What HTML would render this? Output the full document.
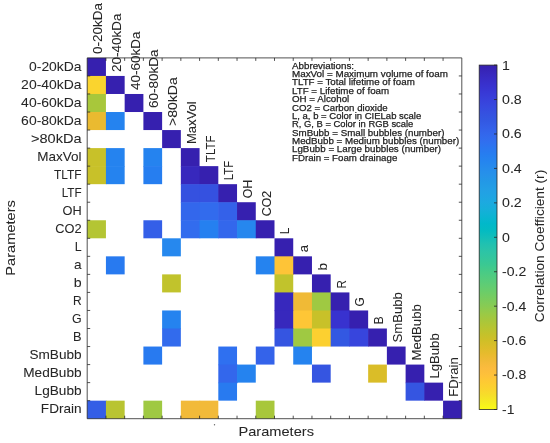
<!DOCTYPE html><html><head><meta charset="utf-8"><style>html,body{margin:0;padding:0;background:#fff;}body{width:550px;height:443px;overflow:hidden;position:relative;}#w{position:absolute;left:0;top:0;width:550px;height:443px;}svg{position:absolute;left:0;top:0;will-change:transform;}text{font-family:"Liberation Sans", sans-serif;fill:#262626;stroke:#262626;stroke-width:0.05px;}</style></head><body>
<div id="w">
<svg width="550" height="443" viewBox="0 0 550 443">
<rect width="550" height="443" fill="#fff"/>
<rect x="87.20" y="57.90" width="18.73" height="18.64" fill="#3620af"/>
<rect x="87.20" y="75.94" width="19.33" height="18.64" fill="#fad42e"/>
<rect x="105.93" y="75.94" width="18.73" height="18.04" fill="#3620af"/>
<rect x="87.20" y="93.98" width="18.73" height="18.64" fill="#a8c73b"/>
<rect x="124.66" y="93.98" width="18.73" height="18.04" fill="#3620af"/>
<rect x="87.20" y="112.02" width="19.33" height="18.04" fill="#eaba30"/>
<rect x="105.93" y="112.02" width="18.73" height="18.04" fill="#2583ef"/>
<rect x="143.39" y="112.02" width="18.73" height="18.04" fill="#3620af"/>
<rect x="162.12" y="130.06" width="18.73" height="18.04" fill="#3620af"/>
<rect x="87.20" y="148.10" width="19.33" height="18.64" fill="#c8c129"/>
<rect x="105.93" y="148.10" width="18.73" height="18.64" fill="#2583ef"/>
<rect x="143.39" y="148.10" width="18.73" height="18.64" fill="#2583ef"/>
<rect x="180.85" y="148.10" width="18.73" height="18.64" fill="#3620af"/>
<rect x="87.20" y="166.14" width="19.33" height="18.04" fill="#c8c129"/>
<rect x="105.93" y="166.14" width="18.73" height="18.04" fill="#2583ef"/>
<rect x="143.39" y="166.14" width="18.73" height="18.04" fill="#267ef0"/>
<rect x="180.85" y="166.14" width="19.33" height="18.64" fill="#3728bd"/>
<rect x="199.58" y="166.14" width="18.73" height="18.64" fill="#3620af"/>
<rect x="180.85" y="184.18" width="19.33" height="18.64" fill="#3551e0"/>
<rect x="199.58" y="184.18" width="19.33" height="18.64" fill="#3551e0"/>
<rect x="218.31" y="184.18" width="18.73" height="18.64" fill="#3620af"/>
<rect x="180.85" y="202.22" width="19.33" height="18.64" fill="#3367ec"/>
<rect x="199.58" y="202.22" width="19.33" height="18.64" fill="#326bed"/>
<rect x="218.31" y="202.22" width="19.33" height="18.64" fill="#3461e9"/>
<rect x="237.04" y="202.22" width="18.73" height="18.64" fill="#3620af"/>
<rect x="87.20" y="220.26" width="18.73" height="18.04" fill="#b4c533"/>
<rect x="143.39" y="220.26" width="18.73" height="18.04" fill="#345fe8"/>
<rect x="180.85" y="220.26" width="19.33" height="18.04" fill="#326cee"/>
<rect x="199.58" y="220.26" width="19.33" height="18.04" fill="#2580f0"/>
<rect x="218.31" y="220.26" width="19.33" height="18.04" fill="#3367ec"/>
<rect x="237.04" y="220.26" width="19.33" height="18.04" fill="#2687ee"/>
<rect x="255.77" y="220.26" width="18.73" height="18.04" fill="#3620af"/>
<rect x="162.12" y="238.30" width="18.73" height="18.04" fill="#2688ee"/>
<rect x="274.50" y="238.30" width="18.73" height="18.64" fill="#3620af"/>
<rect x="105.93" y="256.34" width="18.73" height="18.04" fill="#287af0"/>
<rect x="255.77" y="256.34" width="19.33" height="18.04" fill="#2583ef"/>
<rect x="274.50" y="256.34" width="19.33" height="18.64" fill="#fec437"/>
<rect x="293.23" y="256.34" width="18.73" height="18.04" fill="#3620af"/>
<rect x="162.12" y="274.38" width="18.73" height="18.04" fill="#c1c32c"/>
<rect x="274.50" y="274.38" width="18.73" height="18.64" fill="#c1c32c"/>
<rect x="311.96" y="274.38" width="18.73" height="18.64" fill="#3620af"/>
<rect x="274.50" y="292.42" width="19.33" height="18.64" fill="#3728bd"/>
<rect x="293.23" y="292.42" width="19.33" height="18.64" fill="#f0ba36"/>
<rect x="311.96" y="292.42" width="19.33" height="18.64" fill="#9fc942"/>
<rect x="330.69" y="292.42" width="18.73" height="18.64" fill="#3620af"/>
<rect x="162.12" y="310.46" width="18.73" height="18.64" fill="#2583ef"/>
<rect x="274.50" y="310.46" width="19.33" height="18.64" fill="#3728bd"/>
<rect x="293.23" y="310.46" width="19.33" height="18.64" fill="#fec636"/>
<rect x="311.96" y="310.46" width="19.33" height="18.64" fill="#c8c129"/>
<rect x="330.69" y="310.46" width="19.33" height="18.64" fill="#3832cf"/>
<rect x="349.42" y="310.46" width="18.73" height="18.64" fill="#3620af"/>
<rect x="162.12" y="328.50" width="18.73" height="18.04" fill="#326bed"/>
<rect x="274.50" y="328.50" width="19.33" height="18.04" fill="#3555e1"/>
<rect x="293.23" y="328.50" width="19.33" height="18.64" fill="#9fc942"/>
<rect x="311.96" y="328.50" width="19.33" height="18.04" fill="#fcd030"/>
<rect x="330.69" y="328.50" width="19.33" height="18.04" fill="#3358e2"/>
<rect x="349.42" y="328.50" width="19.33" height="18.04" fill="#3745dd"/>
<rect x="368.15" y="328.50" width="18.73" height="18.04" fill="#3620af"/>
<rect x="143.39" y="346.54" width="18.73" height="18.04" fill="#287af0"/>
<rect x="218.31" y="346.54" width="18.73" height="18.64" fill="#2f70f0"/>
<rect x="255.77" y="346.54" width="18.73" height="18.04" fill="#3463ea"/>
<rect x="293.23" y="346.54" width="18.73" height="18.04" fill="#2583ef"/>
<rect x="386.88" y="346.54" width="18.73" height="18.04" fill="#3620af"/>
<rect x="218.31" y="364.58" width="19.33" height="18.64" fill="#3367ec"/>
<rect x="237.04" y="364.58" width="18.73" height="18.04" fill="#2583ef"/>
<rect x="311.96" y="364.58" width="18.73" height="18.04" fill="#3555e1"/>
<rect x="368.15" y="364.58" width="18.73" height="18.04" fill="#dabd28"/>
<rect x="405.61" y="364.58" width="18.73" height="18.64" fill="#3620af"/>
<rect x="218.31" y="382.62" width="18.73" height="18.04" fill="#287af0"/>
<rect x="405.61" y="382.62" width="19.33" height="18.04" fill="#3555e1"/>
<rect x="424.34" y="382.62" width="18.73" height="18.04" fill="#3620af"/>
<rect x="87.20" y="400.66" width="19.33" height="18.04" fill="#345ee6"/>
<rect x="105.93" y="400.66" width="18.73" height="18.04" fill="#b9c431"/>
<rect x="143.39" y="400.66" width="18.73" height="18.04" fill="#9fc942"/>
<rect x="180.85" y="400.66" width="19.33" height="18.04" fill="#f2ba39"/>
<rect x="199.58" y="400.66" width="18.73" height="18.04" fill="#f2ba39"/>
<rect x="255.77" y="400.66" width="18.73" height="18.04" fill="#a8c73b"/>
<rect x="443.07" y="400.66" width="18.73" height="18.04" fill="#3620af"/>
<path d="M87.20 57.90H461.80V418.70H87.20Z" fill="none" stroke="#262626" stroke-width="0.8"/>
<path d="M105.93 57.90v3.00M105.93 418.70v-3.00M87.20 75.94h3.00M461.80 75.94h-3.00M124.66 57.90v3.00M124.66 418.70v-3.00M87.20 93.98h3.00M461.80 93.98h-3.00M143.39 57.90v3.00M143.39 418.70v-3.00M87.20 112.02h3.00M461.80 112.02h-3.00M162.12 57.90v3.00M162.12 418.70v-3.00M87.20 130.06h3.00M461.80 130.06h-3.00M180.85 57.90v3.00M180.85 418.70v-3.00M87.20 148.10h3.00M461.80 148.10h-3.00M199.58 57.90v3.00M199.58 418.70v-3.00M87.20 166.14h3.00M461.80 166.14h-3.00M218.31 57.90v3.00M218.31 418.70v-3.00M87.20 184.18h3.00M461.80 184.18h-3.00M237.04 57.90v3.00M237.04 418.70v-3.00M87.20 202.22h3.00M461.80 202.22h-3.00M255.77 57.90v3.00M255.77 418.70v-3.00M87.20 220.26h3.00M461.80 220.26h-3.00M274.50 57.90v3.00M274.50 418.70v-3.00M87.20 238.30h3.00M461.80 238.30h-3.00M293.23 57.90v3.00M293.23 418.70v-3.00M87.20 256.34h3.00M461.80 256.34h-3.00M311.96 57.90v3.00M311.96 418.70v-3.00M87.20 274.38h3.00M461.80 274.38h-3.00M330.69 57.90v3.00M330.69 418.70v-3.00M87.20 292.42h3.00M461.80 292.42h-3.00M349.42 57.90v3.00M349.42 418.70v-3.00M87.20 310.46h3.00M461.80 310.46h-3.00M368.15 57.90v3.00M368.15 418.70v-3.00M87.20 328.50h3.00M461.80 328.50h-3.00M386.88 57.90v3.00M386.88 418.70v-3.00M87.20 346.54h3.00M461.80 346.54h-3.00M405.61 57.90v3.00M405.61 418.70v-3.00M87.20 364.58h3.00M461.80 364.58h-3.00M424.34 57.90v3.00M424.34 418.70v-3.00M87.20 382.62h3.00M461.80 382.62h-3.00M443.07 57.90v3.00M443.07 418.70v-3.00M87.20 400.66h3.00M461.80 400.66h-3.00" fill="none" stroke="#262626" stroke-width="0.8"/>
<text x="81.60" y="70.72" font-size="12.40" textLength="52.56" lengthAdjust="spacingAndGlyphs" text-anchor="end">0-20kDa</text>
<text x="81.60" y="88.76" font-size="12.40" textLength="60.46" lengthAdjust="spacingAndGlyphs" text-anchor="end">20-40kDa</text>
<text x="81.60" y="106.80" font-size="12.40" textLength="60.46" lengthAdjust="spacingAndGlyphs" text-anchor="end">40-60kDa</text>
<text x="81.60" y="124.84" font-size="12.40" textLength="60.46" lengthAdjust="spacingAndGlyphs" text-anchor="end">60-80kDa</text>
<text x="81.60" y="142.88" font-size="12.40" textLength="50.58" lengthAdjust="spacingAndGlyphs" text-anchor="end">&gt;80kDa</text>
<text x="81.60" y="160.92" font-size="12.40" textLength="44.26" lengthAdjust="spacingAndGlyphs" text-anchor="end">MaxVol</text>
<text x="81.60" y="178.96" font-size="12.40" textLength="27.53" lengthAdjust="spacingAndGlyphs" text-anchor="end">TLTF</text>
<text x="81.60" y="197.00" font-size="12.40" textLength="19.94" lengthAdjust="spacingAndGlyphs" text-anchor="end">LTF</text>
<text x="81.60" y="215.04" font-size="12.40" textLength="19.12" lengthAdjust="spacingAndGlyphs" text-anchor="end">OH</text>
<text x="81.60" y="233.08" font-size="12.40" textLength="26.35" lengthAdjust="spacingAndGlyphs" text-anchor="end">CO2</text>
<text x="81.60" y="251.12" font-size="12.40" textLength="6.92" lengthAdjust="spacingAndGlyphs" text-anchor="end">L</text>
<text x="81.60" y="269.16" font-size="12.40" textLength="7.61" lengthAdjust="spacingAndGlyphs" text-anchor="end">a</text>
<text x="81.60" y="287.20" font-size="12.40" textLength="7.88" lengthAdjust="spacingAndGlyphs" text-anchor="end">b</text>
<text x="81.60" y="305.24" font-size="12.40" textLength="8.63" lengthAdjust="spacingAndGlyphs" text-anchor="end">R</text>
<text x="81.60" y="323.28" font-size="12.40" textLength="9.62" lengthAdjust="spacingAndGlyphs" text-anchor="end">G</text>
<text x="81.60" y="341.32" font-size="12.40" textLength="8.52" lengthAdjust="spacingAndGlyphs" text-anchor="end">B</text>
<text x="81.60" y="359.36" font-size="12.40" textLength="52.14" lengthAdjust="spacingAndGlyphs" text-anchor="end">SmBubb</text>
<text x="81.60" y="377.40" font-size="12.40" textLength="58.40" lengthAdjust="spacingAndGlyphs" text-anchor="end">MedBubb</text>
<text x="81.60" y="395.44" font-size="12.40" textLength="46.96" lengthAdjust="spacingAndGlyphs" text-anchor="end">LgBubb</text>
<text x="81.60" y="413.48" font-size="12.40" textLength="40.75" lengthAdjust="spacingAndGlyphs" text-anchor="end">FDrain</text>
<text transform="translate(102.16 53.90) rotate(-90)" x="0" y="0" font-size="12.40" textLength="50.78" lengthAdjust="spacingAndGlyphs">0-20kDa</text>
<text transform="translate(120.89 71.94) rotate(-90)" x="0" y="0" font-size="12.40" textLength="58.41" lengthAdjust="spacingAndGlyphs">20-40kDa</text>
<text transform="translate(139.62 89.98) rotate(-90)" x="0" y="0" font-size="12.40" textLength="58.41" lengthAdjust="spacingAndGlyphs">40-60kDa</text>
<text transform="translate(158.35 108.02) rotate(-90)" x="0" y="0" font-size="12.40" textLength="58.41" lengthAdjust="spacingAndGlyphs">60-80kDa</text>
<text transform="translate(177.09 126.06) rotate(-90)" x="0" y="0" font-size="12.40" textLength="48.87" lengthAdjust="spacingAndGlyphs">&gt;80kDa</text>
<text transform="translate(195.81 144.10) rotate(-90)" x="0" y="0" font-size="12.40" textLength="42.76" lengthAdjust="spacingAndGlyphs">MaxVol</text>
<text transform="translate(214.54 162.14) rotate(-90)" x="0" y="0" font-size="12.40" textLength="26.60" lengthAdjust="spacingAndGlyphs">TLTF</text>
<text transform="translate(233.28 180.18) rotate(-90)" x="0" y="0" font-size="12.40" textLength="19.27" lengthAdjust="spacingAndGlyphs">LTF</text>
<text transform="translate(252.01 198.22) rotate(-90)" x="0" y="0" font-size="12.40" textLength="18.47" lengthAdjust="spacingAndGlyphs">OH</text>
<text transform="translate(270.74 216.26) rotate(-90)" x="0" y="0" font-size="12.40" textLength="25.46" lengthAdjust="spacingAndGlyphs">CO2</text>
<text transform="translate(289.47 234.30) rotate(-90)" x="0" y="0" font-size="12.40" textLength="6.69" lengthAdjust="spacingAndGlyphs">L</text>
<text transform="translate(308.20 252.34) rotate(-90)" x="0" y="0" font-size="12.40" textLength="7.35" lengthAdjust="spacingAndGlyphs">a</text>
<text transform="translate(326.93 270.38) rotate(-90)" x="0" y="0" font-size="12.40" textLength="7.62" lengthAdjust="spacingAndGlyphs">b</text>
<text transform="translate(345.66 288.42) rotate(-90)" x="0" y="0" font-size="12.40" textLength="8.34" lengthAdjust="spacingAndGlyphs">R</text>
<text transform="translate(364.38 306.46) rotate(-90)" x="0" y="0" font-size="12.40" textLength="9.30" lengthAdjust="spacingAndGlyphs">G</text>
<text transform="translate(383.12 324.50) rotate(-90)" x="0" y="0" font-size="12.40" textLength="8.23" lengthAdjust="spacingAndGlyphs">B</text>
<text transform="translate(401.85 342.54) rotate(-90)" x="0" y="0" font-size="12.40" textLength="50.38" lengthAdjust="spacingAndGlyphs">SmBubb</text>
<text transform="translate(420.58 360.58) rotate(-90)" x="0" y="0" font-size="12.40" textLength="56.43" lengthAdjust="spacingAndGlyphs">MedBubb</text>
<text transform="translate(439.31 378.62) rotate(-90)" x="0" y="0" font-size="12.40" textLength="45.38" lengthAdjust="spacingAndGlyphs">LgBubb</text>
<text transform="translate(458.04 396.66) rotate(-90)" x="0" y="0" font-size="12.40" textLength="39.37" lengthAdjust="spacingAndGlyphs">FDrain</text>
<text x="292.00" y="68.70" font-size="9.20" textLength="62.04" lengthAdjust="spacingAndGlyphs" fill="#1a1a1a" style="stroke:#1a1a1a;stroke-width:0.25px">Abbreviations:</text>
<text x="292.00" y="77.06" font-size="9.20" textLength="155.98" lengthAdjust="spacingAndGlyphs" fill="#1a1a1a" style="stroke:#1a1a1a;stroke-width:0.25px">MaxVol = Maximum volume of foam</text>
<text x="292.00" y="85.42" font-size="9.20" textLength="122.77" lengthAdjust="spacingAndGlyphs" fill="#1a1a1a" style="stroke:#1a1a1a;stroke-width:0.25px">TLTF = Total lifetime of foam</text>
<text x="292.00" y="93.78" font-size="9.20" textLength="97.10" lengthAdjust="spacingAndGlyphs" fill="#1a1a1a" style="stroke:#1a1a1a;stroke-width:0.25px">LTF = Lifetime of foam</text>
<text x="292.00" y="102.14" font-size="9.20" textLength="57.27" lengthAdjust="spacingAndGlyphs" fill="#1a1a1a" style="stroke:#1a1a1a;stroke-width:0.25px">OH = Alcohol</text>
<text x="292.00" y="110.50" font-size="9.20" textLength="95.71" lengthAdjust="spacingAndGlyphs" fill="#1a1a1a" style="stroke:#1a1a1a;stroke-width:0.25px">CO2 = Carbon dioxide</text>
<text x="292.00" y="118.86" font-size="9.20" textLength="129.28" lengthAdjust="spacingAndGlyphs" fill="#1a1a1a" style="stroke:#1a1a1a;stroke-width:0.25px">L, a, b = Color in CIELab scale</text>
<text x="292.00" y="127.22" font-size="9.20" textLength="121.34" lengthAdjust="spacingAndGlyphs" fill="#1a1a1a" style="stroke:#1a1a1a;stroke-width:0.25px">R, G, B = Color in RGB scale</text>
<text x="292.00" y="135.58" font-size="9.20" textLength="152.40" lengthAdjust="spacingAndGlyphs" fill="#1a1a1a" style="stroke:#1a1a1a;stroke-width:0.25px">SmBubb = Small bubbles (number)</text>
<text x="292.00" y="143.94" font-size="9.20" textLength="167.23" lengthAdjust="spacingAndGlyphs" fill="#1a1a1a" style="stroke:#1a1a1a;stroke-width:0.25px">MedBubb = Medium bubbles (number)</text>
<text x="292.00" y="152.30" font-size="9.20" textLength="149.12" lengthAdjust="spacingAndGlyphs" fill="#1a1a1a" style="stroke:#1a1a1a;stroke-width:0.25px">LgBubb = Large bubbles (number)</text>
<text x="292.00" y="160.66" font-size="9.20" textLength="105.30" lengthAdjust="spacingAndGlyphs" fill="#1a1a1a" style="stroke:#1a1a1a;stroke-width:0.25px">FDrain = Foam drainage</text>
<defs><linearGradient id="cb" x1="0" y1="0" x2="0" y2="1"><stop offset="0.000" stop-color="#3620af"/><stop offset="0.020" stop-color="#3726ba"/><stop offset="0.040" stop-color="#382cc5"/><stop offset="0.060" stop-color="#3832cf"/><stop offset="0.080" stop-color="#3839d6"/><stop offset="0.100" stop-color="#3841db"/><stop offset="0.120" stop-color="#3749df"/><stop offset="0.140" stop-color="#3551e0"/><stop offset="0.160" stop-color="#3358e2"/><stop offset="0.180" stop-color="#345fe8"/><stop offset="0.200" stop-color="#3367ec"/><stop offset="0.220" stop-color="#316eef"/><stop offset="0.240" stop-color="#2b76f0"/><stop offset="0.260" stop-color="#267ef0"/><stop offset="0.280" stop-color="#2585ef"/><stop offset="0.300" stop-color="#268cec"/><stop offset="0.320" stop-color="#2692e9"/><stop offset="0.340" stop-color="#2399e6"/><stop offset="0.360" stop-color="#239fe5"/><stop offset="0.380" stop-color="#20a4e3"/><stop offset="0.400" stop-color="#1caadf"/><stop offset="0.420" stop-color="#16afd9"/><stop offset="0.440" stop-color="#0bb4d2"/><stop offset="0.460" stop-color="#01b8ca"/><stop offset="0.480" stop-color="#03bbc2"/><stop offset="0.500" stop-color="#12beb9"/><stop offset="0.520" stop-color="#21c1b0"/><stop offset="0.540" stop-color="#2cc4a7"/><stop offset="0.560" stop-color="#33c69d"/><stop offset="0.580" stop-color="#3bc992"/><stop offset="0.600" stop-color="#48cb86"/><stop offset="0.620" stop-color="#54cc7d"/><stop offset="0.640" stop-color="#60cd73"/><stop offset="0.660" stop-color="#6ccd68"/><stop offset="0.680" stop-color="#7acc5d"/><stop offset="0.700" stop-color="#88cb53"/><stop offset="0.720" stop-color="#98ca47"/><stop offset="0.740" stop-color="#a7c73c"/><stop offset="0.760" stop-color="#b5c533"/><stop offset="0.780" stop-color="#c3c22b"/><stop offset="0.800" stop-color="#d0bf27"/><stop offset="0.820" stop-color="#dcbd29"/><stop offset="0.840" stop-color="#e8bb2e"/><stop offset="0.860" stop-color="#f2ba38"/><stop offset="0.880" stop-color="#fbbb3e"/><stop offset="0.900" stop-color="#fec13a"/><stop offset="0.920" stop-color="#feca33"/><stop offset="0.940" stop-color="#fbd32e"/><stop offset="0.960" stop-color="#f6df29"/><stop offset="0.980" stop-color="#f5ed21"/><stop offset="1.000" stop-color="#f9fb15"/></linearGradient></defs>
<rect x="479.20" y="65.10" width="17.80" height="344.40" fill="url(#cb)" stroke="#262626" stroke-width="0.8"/>
<text x="502.00" y="69.50" font-size="12.40" textLength="7.90" lengthAdjust="spacingAndGlyphs">1</text>
<text x="502.00" y="103.94" font-size="12.40" textLength="19.75" lengthAdjust="spacingAndGlyphs">0.8</text>
<text x="502.00" y="138.38" font-size="12.40" textLength="19.75" lengthAdjust="spacingAndGlyphs">0.6</text>
<text x="502.00" y="172.82" font-size="12.40" textLength="19.75" lengthAdjust="spacingAndGlyphs">0.4</text>
<text x="502.00" y="207.26" font-size="12.40" textLength="19.75" lengthAdjust="spacingAndGlyphs">0.2</text>
<text x="502.00" y="241.70" font-size="12.40" textLength="7.90" lengthAdjust="spacingAndGlyphs">0</text>
<text x="502.00" y="276.14" font-size="12.40" textLength="24.23" lengthAdjust="spacingAndGlyphs">-0.2</text>
<text x="502.00" y="310.58" font-size="12.40" textLength="24.23" lengthAdjust="spacingAndGlyphs">-0.4</text>
<text x="502.00" y="345.02" font-size="12.40" textLength="24.23" lengthAdjust="spacingAndGlyphs">-0.6</text>
<text x="502.00" y="379.46" font-size="12.40" textLength="24.23" lengthAdjust="spacingAndGlyphs">-0.8</text>
<text x="502.00" y="413.90" font-size="12.40" textLength="12.38" lengthAdjust="spacingAndGlyphs">-1</text>
<path d="M497.00 65.10h-3M497.00 99.54h-3M497.00 133.98h-3M497.00 168.42h-3M497.00 202.86h-3M497.00 237.30h-3M497.00 271.74h-3M497.00 306.18h-3M497.00 340.62h-3M497.00 375.06h-3M497.00 409.50h-3" fill="none" stroke="#262626" stroke-width="0.8"/>
<text x="276.20" y="436.10" font-size="13.20" textLength="75.55" lengthAdjust="spacingAndGlyphs" text-anchor="middle">Parameters</text>
<text transform="translate(15.20 237.90) rotate(-90)" x="0" y="0" font-size="13.20" textLength="75.55" lengthAdjust="spacingAndGlyphs" text-anchor="middle">Parameters</text>
<text transform="translate(544.20 246.00) rotate(-90)" x="0" y="0" font-size="12.40" textLength="152.43" lengthAdjust="spacingAndGlyphs" text-anchor="middle">Correlation Coefficient (r)</text>
<circle cx="214.5" cy="424.8" r="0.7" fill="#666"/>
</svg></div></body></html>
